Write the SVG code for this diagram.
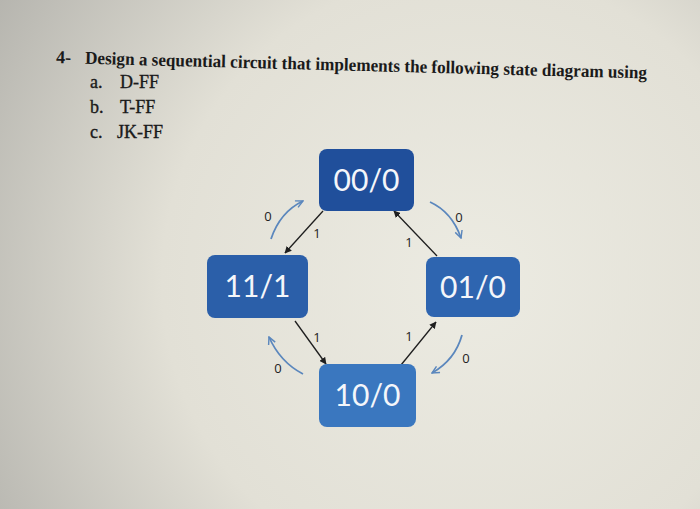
<svg xmlns="http://www.w3.org/2000/svg" width="700" height="509" viewBox="0 0 700 509">
<defs>
<radialGradient id="bg" cx="470" cy="280" r="560" gradientUnits="userSpaceOnUse">
<stop offset="0" stop-color="#ecebe2"/>
<stop offset="0.55" stop-color="#e2e0d6"/>
<stop offset="1" stop-color="#b4b3ad"/>
</radialGradient>
<marker id="ah" viewBox="0 0 10 10" refX="9" refY="5" markerWidth="7" markerHeight="7" markerUnits="userSpaceOnUse" orient="auto">
<path d="M0,0 L10,5 L0,10 z" fill="#1e1e1e"/>
</marker>
<marker id="bh" viewBox="0 0 10 10" refX="9" refY="5" markerWidth="9" markerHeight="9" markerUnits="userSpaceOnUse" orient="auto">
<path d="M1,1 L9,5 L1,9" fill="none" stroke="#5b87bd" stroke-width="1.6"/>
</marker>
</defs>
<style>
.hd{font-family:"Liberation Serif","Times New Roman",serif;font-size:18px;fill:#1a1a1a}
.sub{stroke:#1a1a1a;stroke-width:0.35}
.nt{font-family:Lato,"Open Sans",sans-serif;font-size:30px;fill:#f4f6fa;text-anchor:middle}
.lb{font-family:"Open Sans","Liberation Sans",sans-serif;font-size:13px;fill:#222;text-anchor:middle}
.blk{stroke:#1e1e1e;stroke-width:1.3;fill:none;marker-end:url(#ah)}
.blu{stroke:#5b87bd;stroke-width:1.8;fill:none;marker-end:url(#bh)}
</style>
<rect width="700" height="509" fill="url(#bg)"/>
<g id="header">
<text class="hd" font-weight="bold" font-size="17" x="56" y="63" transform="rotate(1.5 56 63)">4-<tspan x="85" textLength="562" lengthAdjust="spacingAndGlyphs">Design a sequential circuit that implements the following state diagram using</tspan></text>
<text class="hd sub" x="90" y="88">a.<tspan x="120">D-FF</tspan></text>
<text class="hd sub" x="90" y="113">b.<tspan x="120">T-FF</tspan></text>
<text class="hd sub" x="90" y="138">c.<tspan x="117">JK-FF</tspan></text>
</g>
<g id="connectors">
<line class="blk" x1="323" y1="211" x2="285" y2="253"/>
<text class="lb" x="317" y="238">1</text>
<path class="blu" d="M271,239 Q280,212 303,201"/>
<text class="lb" x="268" y="221">0</text>
<line class="blk" x1="437" y1="256" x2="394" y2="211"/>
<text class="lb" x="409" y="247">1</text>
<path class="blu" d="M430,202 Q452,212 461,238"/>
<text class="lb" x="459" y="222">0</text>
<line class="blk" x1="295" y1="321" x2="326" y2="364"/>
<text class="lb" x="317" y="342">1</text>
<path class="blu" d="M303,374 Q280,362 269,337"/>
<text class="lb" x="278" y="373">0</text>
<line class="blk" x1="401" y1="365" x2="436" y2="322"/>
<text class="lb" x="409" y="341">1</text>
<path class="blu" d="M462,335 Q455,360 432,373"/>
<text class="lb" x="466" y="363">0</text>
</g>
<g id="s00">
<rect x="319" y="149" width="95" height="62" rx="8" fill="#204f9b"/>
<text class="nt" x="366.5" y="191">00/0</text>
</g>
<g id="s11">
<rect x="207" y="255" width="101" height="63" rx="8" fill="#2b5fa9"/>
<text class="nt" x="257.5" y="297">11/1</text>
</g>
<g id="s01">
<rect x="426" y="257" width="94" height="60" rx="8" fill="#2e65b0"/>
<text class="nt" x="473" y="298">01/0</text>
</g>
<g id="s10">
<rect x="319" y="364" width="97" height="63" rx="8" fill="#3a77bf"/>
<text class="nt" x="367.5" y="406">10/0</text>
</g>
</svg>
